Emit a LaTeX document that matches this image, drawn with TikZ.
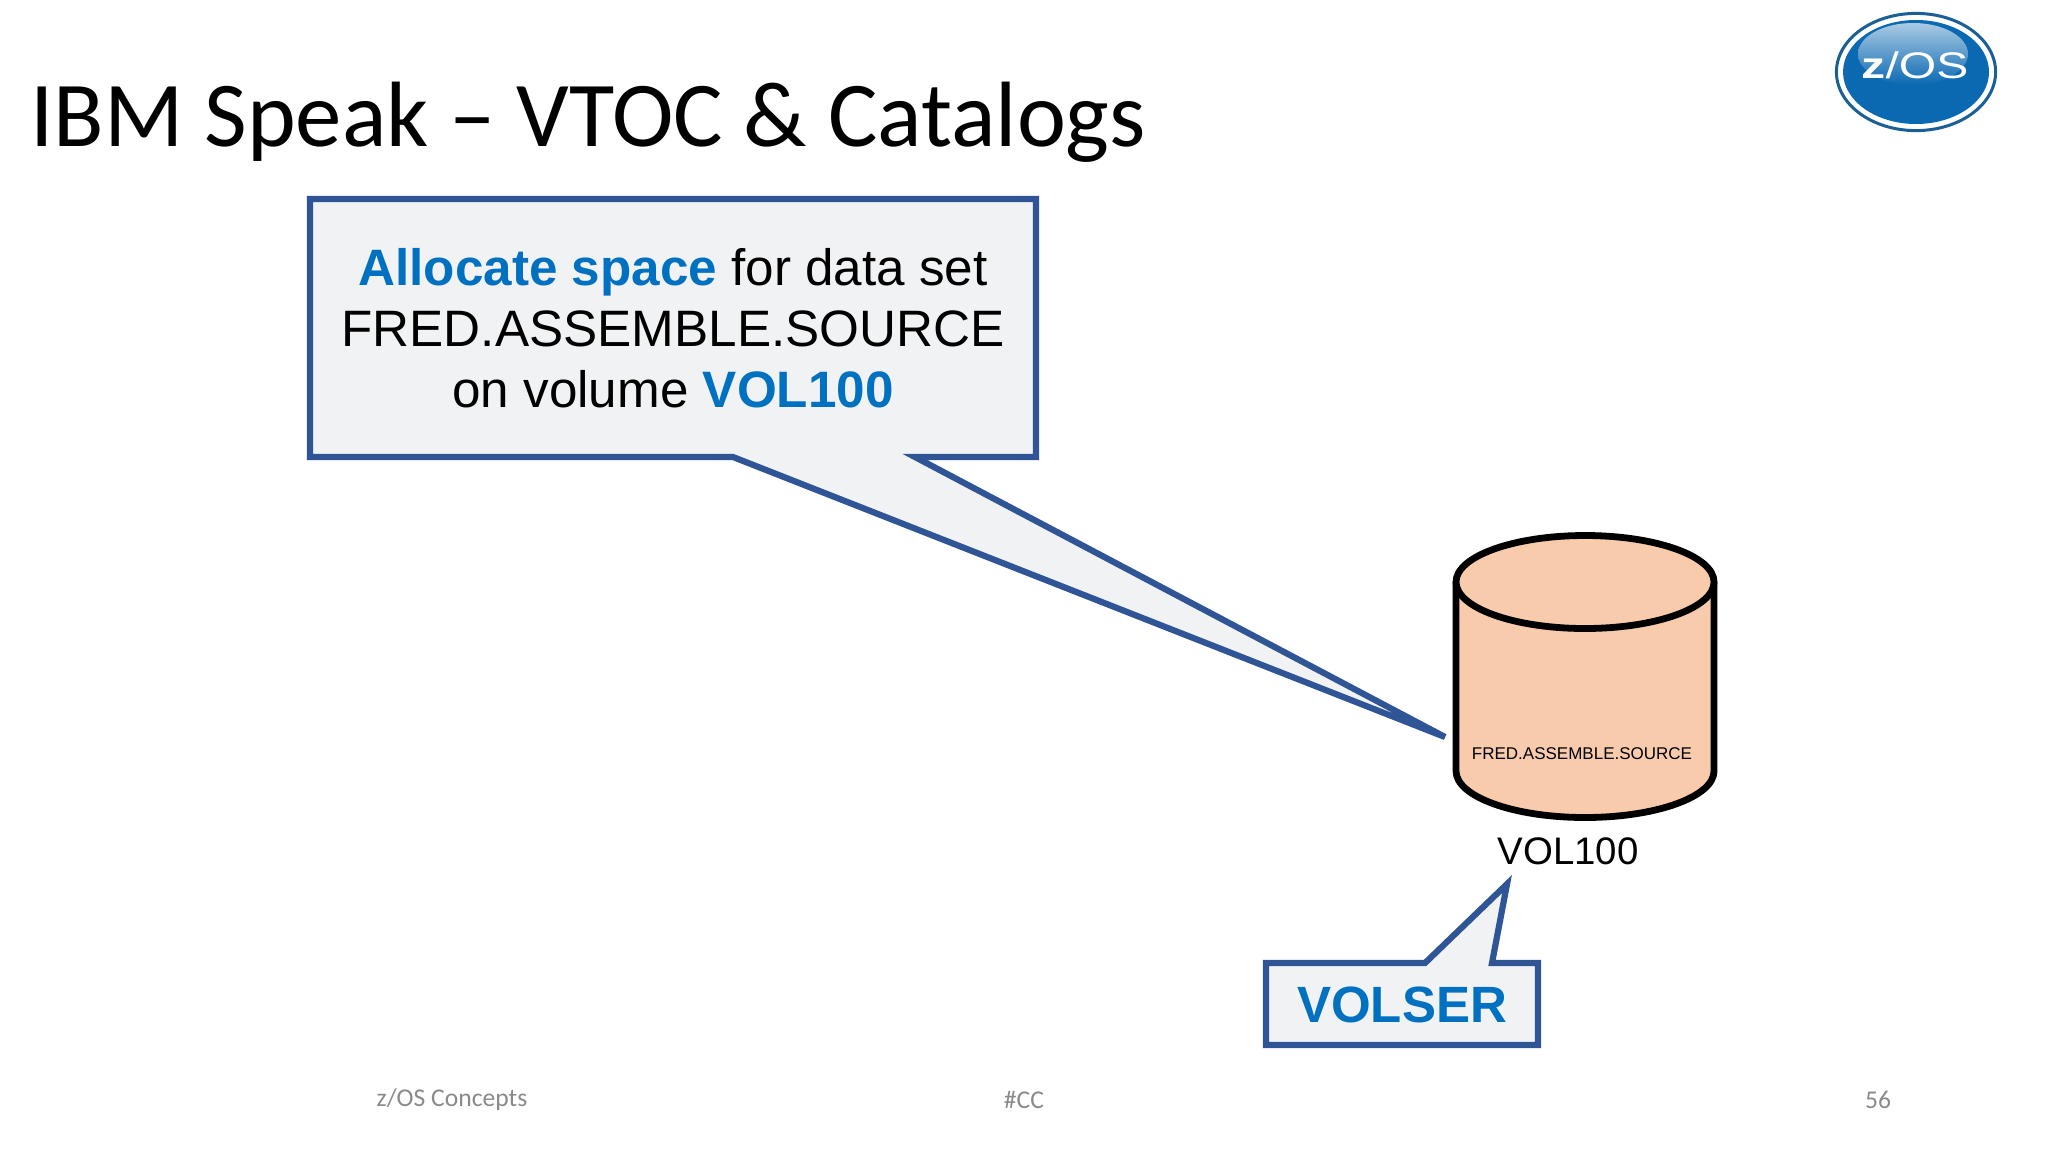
\documentclass[tikz,border=0pt]{standalone}
\usepackage{fontspec}
\setmainfont{Liberation Sans}
\newfontfamily\slidefont{Carlito}
\usepackage{color}
\usetikzlibrary{positioning}
\definecolor{boxblue}{HTML}{2F5597}
\definecolor{boxfill}{HTML}{F1F2F3}
\definecolor{textblue}{HTML}{0070C0}
\definecolor{diskfill}{HTML}{F8CBAD}
\definecolor{logoblue}{HTML}{0B69B2}
\definecolor{logoring}{HTML}{1B5F94}
\definecolor{footgray}{HTML}{8A8A8A}
\tikzset{
    callout/.style={draw=boxblue, fill=boxfill, line width=3.1pt, miter limit=10},
    disk/.style={draw=black, line width=3.4pt, line join=round},
    footer/.style={text=footgray, font=\slidefont\fontsize{12.8}{14}\selectfont},
    bigtext/.style={align=center, font=\fontsize{25.6}{30.5}\selectfont},
}
\newcommand{\blue}[1]{\textcolor{textblue}{\textbf{#1}}}

\begin{document}
\begin{tikzpicture}[x=0.5pt,y=-0.5pt]
   \useasboundingbox (0,0) rectangle (2048,1152);

   % title and footer
   \node[anchor=base west, inner sep=0pt, font=\slidefont\fontsize{46.4}{50}\selectfont] (title) at (30,146) {IBM Speak – VTOC \& Catalogs};
   \node[footer] (foot_a) at (452,1100) {z/OS Concepts};
   \node[footer] (foot_b) at (1024,1100) {\#CC};
   \node[footer] (foot_c) at (1878,1100) {56};

   % logo
   \fill[white, draw=logoring, line width=1.5pt] (1916,72) ellipse [x radius=39.8pt, y radius=29.3pt];
   \fill[logoblue] (1916,72) ellipse [x radius=36.5pt, y radius=26pt];
   \shade[top color=logoblue!35!white, bottom color=logoblue] (1913,54) ellipse [x radius=27.5pt, y radius=15.5pt];
   \node[text=white, font=\fontsize{18.5}{20}\selectfont] (logo_text) at (1915,65) {\scalebox{1.3}[1]{\textbf{z}/OS}};

   % big callout
   \coordinate (big_tip) at (1445,737);
   \draw[callout] (310,199) -- (1036,199) -- (1036,457) -- (915,457) -- (big_tip) -- (733,457) -- (310,457) -- cycle;
   \node[bigtext] (alloc) at (673,328) {\blue{Allocate space} for data set\\FRED.ASSEMBLE.SOURCE\\on volume \blue{VOL100}};

   % volume
   \fill[diskfill] (1456,582) rectangle (1714,771);
   \fill[diskfill] (1585,771) ellipse [x radius=64.5pt, y radius=23.25pt];
   \draw[disk] (1456,582) -- (1456,771) arc[start angle=180, end angle=360, x radius=64.5pt, y radius=23.25pt] -- (1714,582);
   \draw[disk, fill=diskfill] (1585,582) ellipse [x radius=64.5pt, y radius=23.25pt];
   \node[font=\fontsize{8.5}{10}\selectfont] (dataset) at (1582,754) {FRED.ASSEMBLE.SOURCE};
   \node[font=\fontsize{19.2}{22}\selectfont] (volume) at (1568,851) {VOL100};

   % small callout
   \coordinate (small_tip) at (1507,884);
   \draw[callout] (1266,963) -- (1425,963) -- (small_tip) -- (1492,963) -- (1538,963) -- (1538,1045) -- (1266,1045) -- cycle;
   \node[font=\fontsize{25.5}{30}\selectfont] (volser) at (1402,1005) {\blue{VOLSER}};
\end{tikzpicture}
\end{document}
